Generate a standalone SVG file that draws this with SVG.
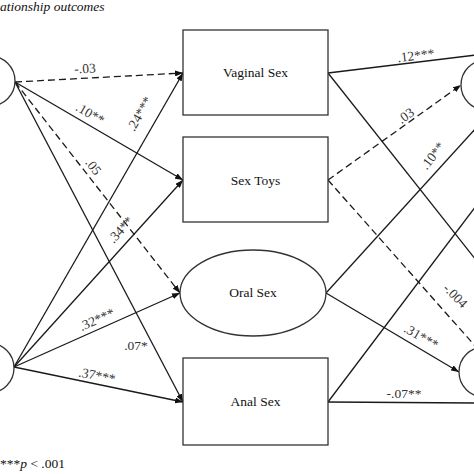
<svg xmlns="http://www.w3.org/2000/svg" width="474" height="474" viewBox="0 0 474 474">
<defs>
<marker id="ah" markerUnits="userSpaceOnUse" markerWidth="8" markerHeight="6" refX="8" refY="3" orient="auto">
<path d="M0,0 L8,3 L0,6 z" fill="#111"/>
</marker>
<style>
.n{fill:#fff;stroke:#333;stroke-width:1.3}
.t{font-family:"Liberation Serif","Times New Roman",serif;font-size:13.5px;fill:#111;text-anchor:middle}
.l{font-family:"Liberation Serif","Times New Roman",serif;font-size:13.5px;fill:#333;text-anchor:middle}
.s{fill:none;stroke:#1a1a1a;stroke-width:1.3}
.d{fill:none;stroke:#1a1a1a;stroke-width:1.3;stroke-dasharray:7 4}
.a{marker-end:url(#ah)}
</style>
</defs>
<rect width="474" height="474" fill="#fff"/>
<text x="0" y="11" font-family="Liberation Serif, serif" font-style="italic" font-size="13.5" fill="#111">ationship outcomes</text>
<text x="0" y="468" font-family="Liberation Serif, serif" font-size="13.5" fill="#111">***<tspan font-style="italic">p</tspan> &lt; .001</text>

<g id="connectors">
<line class="d a" x1="15" y1="82" x2="183" y2="73"/>
<line class="s a" x1="15" y1="82" x2="183" y2="180"/>
<line class="d a" x1="15" y1="82" x2="180" y2="293"/>
<line class="s a" x1="15" y1="82" x2="183" y2="402"/>
<line class="s a" x1="14" y1="367" x2="183" y2="73"/>
<line class="s a" x1="14" y1="367" x2="183" y2="180"/>
<line class="s a" x1="14" y1="367" x2="180" y2="293"/>
<line class="s a" x1="14" y1="367" x2="183" y2="402"/>
<line class="s" x1="328" y1="73" x2="476" y2="55"/>
<line class="s" x1="328" y1="73" x2="476" y2="260"/>
<line class="d a" x1="328" y1="180" x2="461" y2="85"/>
<line class="d" x1="328" y1="180" x2="476" y2="347"/>
<line class="s" x1="326" y1="293" x2="476" y2="128"/>
<line class="s a" x1="326" y1="293" x2="459" y2="372"/>
<line class="s" x1="328" y1="402" x2="476" y2="206"/>
<line class="s" x1="328" y1="402" x2="476" y2="403"/>
</g>

<g id="labels">
<text class="l" transform="translate(85,69) rotate(-3)" y="4">-.03</text>
<text class="l" transform="translate(90,114) rotate(30)" y="4">.10**</text>
<text class="l" transform="translate(140,114) rotate(-60)" y="4">.24***</text>
<text class="l" transform="translate(93,167) rotate(52)" y="4">.05</text>
<text class="l" transform="translate(121,230) rotate(-48)" y="4">.34**</text>
<text class="l" transform="translate(97,320) rotate(-24)" y="4">.32***</text>
<text class="l" transform="translate(136,346)" y="4">.07*</text>
<text class="l" transform="translate(97,376) rotate(11)" y="4">.37***</text>
<text class="l" transform="translate(416,56) rotate(-7)" y="4">.12***</text>
<text class="l" transform="translate(406,116) rotate(-36)" y="4">.03</text>
<text class="l" transform="translate(433,156) rotate(-52)" y="4">.10**</text>
<text class="l" transform="translate(455,296) rotate(45)" y="4">-.004</text>
<text class="l" transform="translate(421,337) rotate(30)" y="4">.31***</text>
<text class="l" transform="translate(404,394)" y="4">-.07**</text>
</g>

<g id="node-tl"><circle class="n" cx="-10" cy="81" r="25"/></g>
<g id="node-bl"><circle class="n" cx="-11" cy="368" r="25"/></g>
<g id="node-tr"><circle class="n" cx="486" cy="85" r="25"/></g>
<g id="node-br"><circle class="n" cx="484" cy="372" r="25"/></g>

<g id="node-vaginal"><rect class="n" x="183" y="30" width="145" height="85"/><text class="t" x="255.5" y="77">Vaginal Sex</text></g>
<g id="node-toys"><rect class="n" x="183" y="137" width="145" height="85"/><text class="t" x="255.5" y="185">Sex Toys</text></g>
<g id="node-oral"><ellipse class="n" cx="253" cy="293" rx="73" ry="43"/><text class="t" x="253" y="297">Oral Sex</text></g>
<g id="node-anal"><rect class="n" x="183" y="358" width="145" height="87"/><text class="t" x="255.5" y="406">Anal Sex</text></g>
</svg>
